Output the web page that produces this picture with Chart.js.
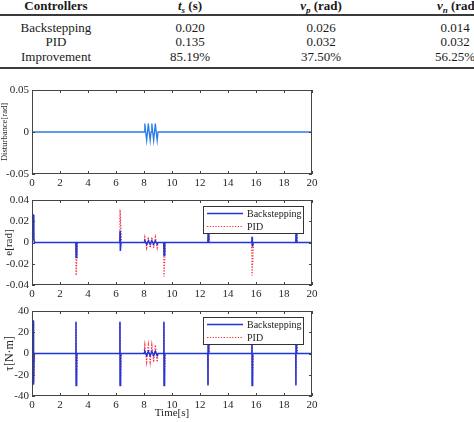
<!DOCTYPE html>
<html>
<head>
<meta charset="utf-8">
<script src="https://cdn.jsdelivr.net/npm/chart.js@4"></script>
<style>
body { margin:0; background:#fff; width:474px; height:422px; overflow:hidden; position:relative; font-family:'Liberation Serif', serif; color:#1a1a1a; }
.rule { position:absolute; left:0; width:474px; height:2px; background:#3a3a3a; }
.cell { position:absolute; width:130px; text-align:center; font-size:13px; line-height:13px; white-space:nowrap; }
.hd { font-weight:bold; }
.cell sub { font-size:9px; vertical-align:-3px; line-height:0; }
canvas { position:absolute; left:0; }
</style>
</head>
<body>
<div class="rule" style="top:14px"></div>
<div class="rule" style="top:67px"></div>
<div id="table"></div>
<canvas id="dist" width="474" height="110" style="top:80px"></canvas>
<canvas id="err" width="474" height="110" style="top:190px"></canvas>
<canvas id="tau" width="474" height="122" style="top:300px"></canvas>
<script>
// table
const tableHeader = ['Controllers', '<i>t</i><sub><i>s</i></sub> (s)', '<i>v</i><sub><i>p</i></sub> (rad)', '<i>v</i><sub><i>n</i></sub> (rad)'];
const controllers = ['Backstepping', 'PID', 'Improvement'];
const settlingTime = ['0.020', '0.135', '85.19%'];
const peakPos = ['0.026', '0.032', '37.50%'];
const peakNeg = ['0.014', '0.032', '56.25%'];

// time axis
const xTickVals = [0, 2, 4, 6, 8, 10, 12, 14, 16, 18, 20];
const xTickLabels = ['0', '2', '4', '6', '8', '10', '12', '14', '16', '18', '20'];

// disturbance
const distT = [0, 8, 8.06, 8.12, 8.19, 8.25, 8.31, 8.37, 8.44, 8.5, 8.56, 8.62, 8.69, 8.75, 8.81, 8.87, 8.94, 9, 20];
const distV = [0, 0, 0.01, 0, -0.01, 0, 0.01, 0, -0.01, 0, 0.01, 0, -0.01, 0, 0.01, 0, -0.01, 0, 0];
const distTickVals = [-0.05, 0, 0.05];
const distTickLabels = ['-0.05', '0', '0.05'];

// tracking error e
const eBackT = [0, 0.1, 0.13, 0.18, 3.13, 3.15, 3.2, 6.27, 6.29, 6.31, 6.36,
  8, 8.06, 8.19, 8.31, 8.44, 8.56, 8.69, 8.81, 8.94, 9,
  9.41, 9.43, 9.48, 12.56, 12.58, 12.63, 15.7, 15.72, 15.74, 15.79, 18.84, 18.86, 18.91, 20];
const eBackV = [0.026, 0.026, 0.003, 0, 0, -0.014, 0, 0, 0.011, -0.008, 0,
  0, 0.0015, -0.0015, 0.0015, -0.0015, 0.0015, -0.0015, 0.0015, -0.0015, 0,
  0, -0.012, 0, 0, 0.008, 0, 0, 0.0055, -0.004, 0, 0, 0.008, 0, 0];
const ePidT = [0, 0.1, 0.13, 0.2, 3.13, 3.15, 3.25, 6.27, 6.29, 6.39,
  8, 8.06, 8.19, 8.31, 8.44, 8.56, 8.69, 8.81, 8.94, 9,
  9.41, 9.43, 9.53, 12.56, 12.58, 12.68, 15.7, 15.72, 15.82, 18.84, 18.86, 18.96, 20];
const ePidV = [0.026, 0.026, 0.005, 0, 0, -0.031, 0, 0, 0.031, 0,
  0, 0.005, -0.005, 0.005, -0.005, 0.005, -0.005, 0.005, -0.005, 0,
  0, -0.032, 0, 0, 0.03, 0, 0, -0.031, 0, 0, 0.03, 0, 0];
const eTickVals = [-0.04, -0.02, 0, 0.02, 0.04];
const eTickLabels = ['-0.04', '-0.02', '0', '0.02', '0.04'];

// control torque
const tauBackT = [0, 0.1, 0.11, 0.15, 3.13, 3.14, 3.15, 3.19, 6.27, 6.28, 6.29, 6.33,
  8, 8.06, 8.19, 8.31, 8.44, 8.56, 8.69, 8.81, 8.94, 9,
  9.41, 9.42, 9.43, 9.47, 12.56, 12.57, 12.58, 12.62, 15.7, 15.71, 15.72, 15.76, 18.84, 18.85, 18.86, 18.9, 20];
const tauBackV = [30.5, 30.5, -29.5, 0, 0, 30, -30, 0, 0, 30, -30, 0,
  0, 2, -2, 2, -2, 2, -2, 2, -2, 0,
  0, 30, -30, 0, 0, -30, 30, 0, 0, 30, -30, 0, 0, -30, 30, 0, 0];
const tauPidT = [0, 0.11, 0.13, 0.19, 3.13, 3.15, 3.17, 3.25, 6.27, 6.29, 6.31, 6.39,
  8, 8.06, 8.19, 8.31, 8.44, 8.56, 8.69, 8.81, 8.94, 9,
  9.41, 9.43, 9.45, 9.53, 12.56, 12.58, 12.6, 12.68, 15.7, 15.72, 15.74, 15.82, 18.84, 18.86, 18.88, 18.96, 20];
const tauPidV = [29, 29, -27, 0, 0, 29, -29, 0, 0, 29, -29, 0,
  0, 8, -8, 8, -8, 8, -8, 8, -8, 0,
  0, 29, -29, 0, 0, -29, 29, 0, 0, 29, -29, 0, 0, -29, 29, 0, 0];
const tauTickVals = [-40, -20, 0, 20, 40];
const tauTickLabels = ['-40', '-20', '0', '20', '40'];

// build the table
const colCenters = [56, 190, 321, 458];
const rowTops = [20.5, 35, 49.5];
const tbl = document.getElementById('table');
function addCell(html, cx, top, cls) {
  const d = document.createElement('div');
  d.className = 'cell ' + (cls || '');
  d.style.left = (cx - 65) + 'px';
  d.style.top = top + 'px';
  d.innerHTML = html;
  tbl.appendChild(d);
}
tableHeader.forEach((h, i) => addCell(h, colCenters[i], -1.5, 'hd'));
[controllers, settlingTime, peakPos, peakNeg].forEach((col, c) => {
  col.forEach((v, r) => addCell(v, c === 3 ? 455 : colCenters[c], rowTops[r]));
});

// charts
Chart.defaults.font.family = "'Liberation Serif', serif";
Chart.defaults.color = '#262626';

const BLUE = '#1f36d8';
const RED = '#ff1f2f';
const pts = (t, v) => t.map((x, i) => ({x: x, y: v[i]}));

// box around the axes, MATLAB style inward ticks, legend inside the axes
const framePlugin = {
  id: 'frame',
  afterDatasetsDraw(chart, args, opts) {
    const {ctx, chartArea: a, scales: {x, y}} = chart;
    ctx.save();
    ctx.strokeStyle = '#444';
    ctx.lineWidth = 1;
    ctx.strokeRect(a.left + 0.5, a.top + 0.5, a.width - 1, a.height - 1);
    ctx.beginPath();
    x.ticks.forEach(t => {
      const px = Math.round(x.getPixelForValue(t.value)) + 0.5;
      ctx.moveTo(px, a.bottom); ctx.lineTo(px, a.bottom - 3);
      ctx.moveTo(px, a.top); ctx.lineTo(px, a.top + 3);
    });
    y.ticks.forEach(t => {
      const py = Math.round(y.getPixelForValue(t.value)) + 0.5;
      ctx.moveTo(a.left, py); ctx.lineTo(a.left + 3, py);
      ctx.moveTo(a.right, py); ctx.lineTo(a.right - 3, py);
    });
    ctx.stroke();
    if (opts.legend) {
      const bx = a.left + 171, by = a.top + 6, bw = 100, bh = 27;
      ctx.fillStyle = '#fff';
      ctx.fillRect(bx, by, bw, bh);
      ctx.strokeStyle = '#333';
      ctx.strokeRect(bx + 0.5, by + 0.5, bw, bh);
      chart.data.datasets.forEach((ds, i) => {
        const ly = by + 7.5 + i * 13;
        ctx.beginPath();
        ctx.setLineDash(ds.borderDash || []);
        ctx.strokeStyle = ds.borderColor;
        ctx.lineWidth = ds.borderWidth;
        ctx.moveTo(bx + 4, ly); ctx.lineTo(bx + 40, ly);
        ctx.stroke();
        ctx.setLineDash([]);
        ctx.fillStyle = '#1a1a1a';
        ctx.font = "10px 'Liberation Serif', serif";
        ctx.textBaseline = 'middle';
        ctx.textAlign = 'left';
        ctx.fillText(ds.label, bx + 44, ly + 0.5);
      });
    }
    ctx.restore();
  }
};

function scales(yVals, yLabels, yTitle, xTitle, xH) {
  return {
    x: {
      type: 'linear', min: 0, max: 20,
      afterBuildTicks: s => { s.ticks = xTickVals.map(v => ({value: v})); },
      afterFit: s => { s.height = xH; },
      grid: {display: false, drawTicks: false},
      border: {display: false},
      ticks: {callback: (v, i) => xTickLabels[i], padding: 3, maxRotation: 0, autoSkip: false, font: {size: 11}},
      title: xTitle ? {display: true, text: xTitle, font: {size: 11, lineHeight: 1}, padding: {top: 0, bottom: 3.5}} : {display: false}
    },
    y: {
      type: 'linear', min: yVals[0], max: yVals[yVals.length - 1],
      afterBuildTicks: s => { s.ticks = yVals.map(v => ({value: v})); },
      afterFit: s => { s.width = 32; },
      grid: {display: false, drawTicks: false},
      border: {display: false},
      ticks: {callback: (v, i) => yLabels[i], padding: 3, font: {size: 11}},
      title: {display: true, text: yTitle.text, font: {size: yTitle.size, lineHeight: 1}, padding: {top: yTitle.pad, bottom: 0}}
    }
  };
}

function makeChart(id, datasets, sc, padTop, legend) {
  new Chart(document.getElementById(id), {
    type: 'line',
    data: {datasets: datasets},
    options: {
      responsive: false,
      animation: false,
      layout: {padding: {top: padTop, right: 162, left: 0, bottom: 0}},
      elements: {point: {radius: 0}, line: {tension: 0}},
      scales: sc,
      plugins: {legend: {display: false}, tooltip: {enabled: false}, frame: {legend: legend}}
    },
    plugins: [framePlugin]
  });
}

makeChart('dist', [
  {label: 'Disturbance', data: pts(distT, distV), borderColor: '#2b7be6', borderWidth: 1.3, fill: false}
], scales(distTickVals, distTickLabels, {text: 'Disturbance[rad]', size: 8.6, pad: 0}, null, 16), 10, false);

makeChart('err', [
  {label: 'Backstepping', data: pts(eBackT, eBackV), borderColor: BLUE, borderWidth: 1.5, fill: false},
  {label: 'PID', data: pts(ePidT, ePidV), borderColor: RED, borderWidth: 1.2, borderDash: [1.2, 1.6], fill: false}
], scales(eTickVals, eTickLabels, {text: 'e[rad]', size: 11, pad: 4}, null, 15), 10, true);

makeChart('tau', [
  {label: 'Backstepping', data: pts(tauBackT, tauBackV), borderColor: BLUE, borderWidth: 1.5, fill: false},
  {label: 'PID', data: pts(tauPidT, tauPidV), borderColor: RED, borderWidth: 1.2, borderDash: [1.2, 1.6], fill: false}
], scales(tauTickVals, tauTickLabels, {text: 'τ[N·m]', size: 12, pad: 4}, 'Time[s]', 26), 11, true);
</script>
</body>
</html>
